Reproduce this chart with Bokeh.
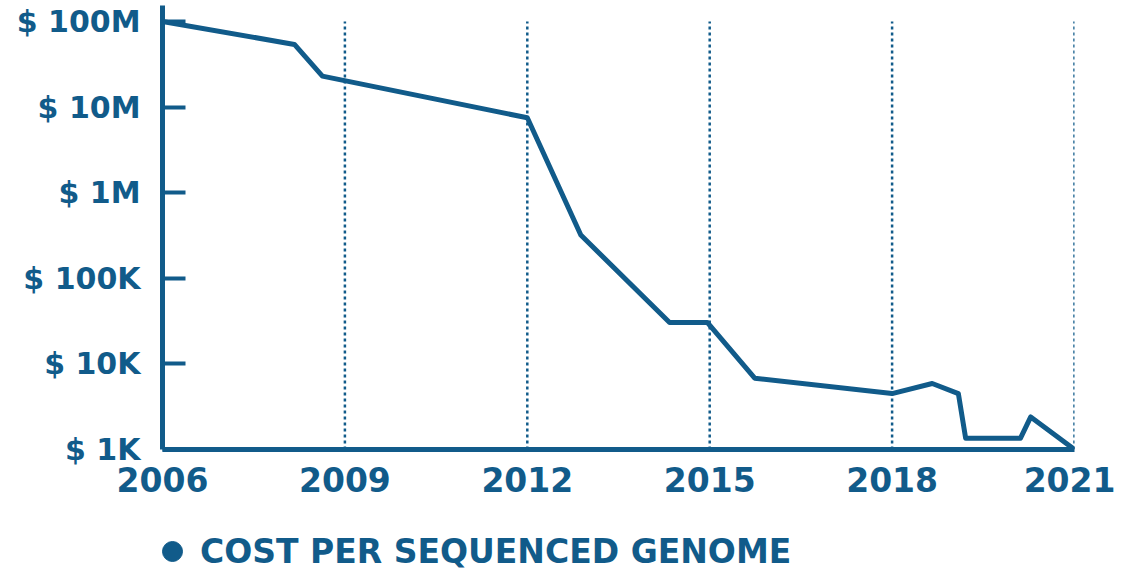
# cost per sequenced genome, log scale line chart
from bokeh.plotting import figure
from bokeh.layouts import column
from bokeh.models import FixedTicker, Legend, LegendItem
from bokeh.embed import file_html
from bokeh.resources import INLINE

# data
years = [2006.0, 2008.17, 2008.63, 2012.0, 2012.88, 2014.34, 2014.96, 2015.74,
         2018.0, 2018.66, 2019.09, 2019.21, 2020.11, 2020.28, 2021.0]
cost = [1.0e8, 5.4e7, 2.3e7, 7.5e6, 3.2e5, 3.05e4, 3.05e4, 6.8e3,
        4.5e3, 5.9e3, 4.5e3, 1.35e3, 1.35e3, 2.4e3, 1.0e3]

x_ticks = [2006, 2009, 2012, 2015, 2018, 2021]
grid_years = [2009, 2012, 2015, 2018, 2021]
y_ticks = [1e3, 1e4, 1e5, 1e6, 1e7, 1e8]
y_labels = ["$ 1K", "$ 10K", "$ 100K", "$ 1M", "$ 10M", "$ 100M"]
series_name = "COST PER SEQUENCED GENOME"

BLUE = "#115b8a"
FONT = "DejaVu Sans"

p = figure(width=1115, height=500, y_axis_type="log",
           x_range=(2006, 2021), y_range=(1e3, 10 ** 8.187),
           output_backend="svg", toolbar_location=None,
           min_border_left=162, min_border_right=41,
           min_border_top=5, min_border_bottom=51)
p.outline_line_color = None
p.grid.grid_line_color = None

# dotted vertical guides
p.segment(x0=grid_years, y0=[y_ticks[0]] * len(grid_years),
          x1=grid_years, y1=[y_ticks[-1]] * len(grid_years),
          line_color=BLUE, line_width=2.5, line_dash="3 3")

p.line(years, cost, line_color=BLUE, line_width=5, line_join="round")

# axes
p.xaxis.ticker = FixedTicker(ticks=x_ticks)
p.xaxis.major_label_overrides = {t: str(t) for t in x_ticks}
p.yaxis.ticker = FixedTicker(ticks=y_ticks)
p.yaxis.major_label_overrides = {t: l for t, l in zip(y_ticks, y_labels)}

for ax in (p.xaxis, p.yaxis):
    ax.axis_line_color = BLUE
    ax.axis_line_width = 5
    ax.minor_tick_line_color = None
    ax.major_label_text_color = BLUE
    ax.major_label_text_font = FONT
    ax.major_label_text_font_style = "bold"

p.xaxis.major_label_text_font_size = "33px"
p.yaxis.major_label_text_font_size = "30px"
p.xaxis.major_tick_line_color = None
p.xaxis.major_label_standoff = 11
p.yaxis.major_tick_line_color = BLUE
p.yaxis.major_tick_line_width = 4
p.yaxis.major_tick_in = 23
p.yaxis.major_tick_out = 0
p.yaxis.major_label_standoff = 22

# legend strip under the chart (frame is aligned with the chart's frame)
p2 = figure(width=1115, height=76, output_backend="svg", toolbar_location=None,
            x_range=(0, 1), y_range=(0, 1),
            x_axis_location=None, y_axis_location=None,
            min_border_left=0, min_border_right=0, min_border_top=0, min_border_bottom=0)
p2.outline_line_color = None
p2.grid.grid_line_color = None
# legend swatch source: the series' first point, which lies outside this strip's ranges
dot = p2.scatter(x=years[:1], y=cost[:1], size=20, color=BLUE)
legend = Legend(items=[LegendItem(label=series_name, renderers=[dot])],
                location=(-15, 0), orientation="horizontal")
legend.border_line_color = None
legend.background_fill_color = None
legend.padding = 0
legend.label_text_color = BLUE
legend.label_text_font = FONT
legend.label_text_font_style = "bold"
legend.label_text_font_size = "33px"
legend.glyph_width = 50
legend.glyph_height = 50
legend.label_standoff = 3
p2.add_layout(legend)

layout = column(p, p2, spacing=0)
open("out.html", "w").write(file_html(layout, INLINE))
